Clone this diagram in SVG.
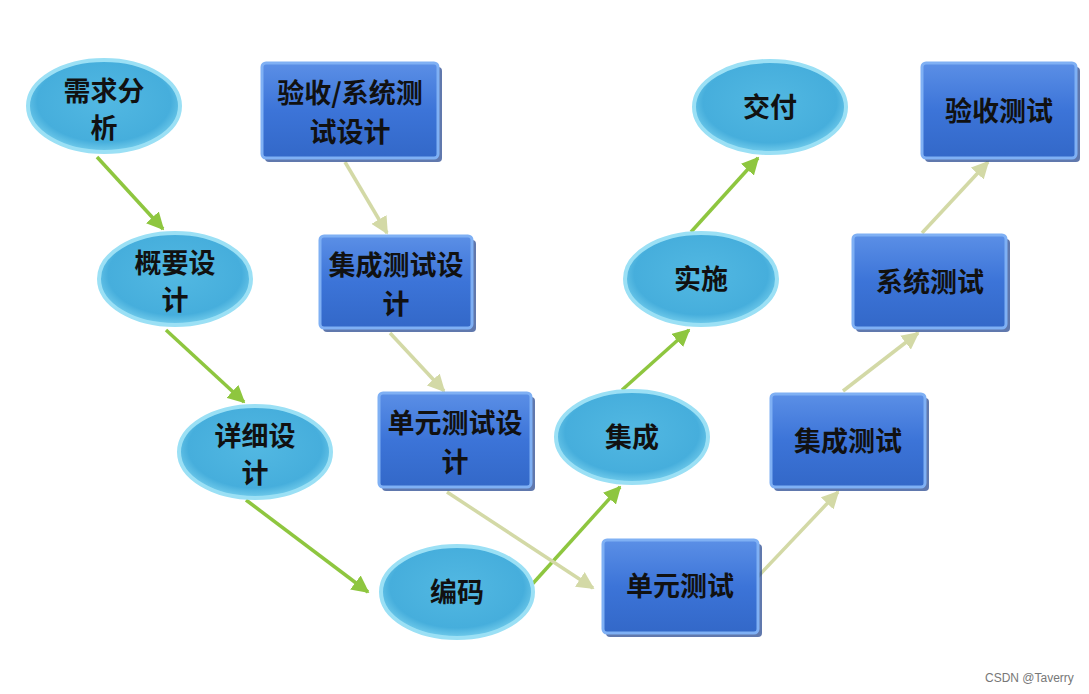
<svg xmlns="http://www.w3.org/2000/svg" width="1089" height="694" viewBox="0 0 1089 694">
<defs>
<radialGradient id="eg" cx="50%" cy="45%" r="55%">
<stop offset="0" stop-color="#52b8e2"/>
<stop offset="0.8" stop-color="#46aedc"/>
<stop offset="1" stop-color="#74cdec"/>
</radialGradient>
<linearGradient id="rg" x1="0" y1="0" x2="0" y2="1">
<stop offset="0" stop-color="#5b8fe6"/>
<stop offset="0.5" stop-color="#3c74d8"/>
<stop offset="1" stop-color="#3368c8"/>
</linearGradient>
<marker id="ag" viewBox="0 0 10 10" refX="9" refY="5" markerWidth="5" markerHeight="5" orient="auto" markerUnits="strokeWidth">
<path d="M0,0 L10,5 L0,10 z" fill="#8ec63f"/>
</marker>
<marker id="ap" viewBox="0 0 10 10" refX="9" refY="5" markerWidth="5" markerHeight="5" orient="auto" markerUnits="strokeWidth">
<path d="M0,0 L10,5 L0,10 z" fill="#d3d9a6"/>
</marker>
</defs>
<style>
.el{fill:url(#eg);stroke:#9be0f5;stroke-width:4}
.rc{fill:url(#rg);stroke:#7fb0f4;stroke-width:3}
.sh{fill:#1c3f8a;opacity:0.7}
.t{font-family:"Noto Sans CJK SC","Noto Sans",sans-serif;font-weight:bold;font-size:27px;fill:#111;text-anchor:middle}
.g{stroke:#8ec63f;stroke-width:3.5;fill:none;marker-end:url(#ag)}
.p{stroke:#d3d9a6;stroke-width:3.5;fill:none;marker-end:url(#ap)}
.wm{font-family:"Liberation Sans",Arial,sans-serif;font-size:12px;fill:#777}
</style>
<rect width="1089" height="694" fill="#ffffff"/>
<g id="connectors">
<line class="g" x1="97" y1="157" x2="163" y2="229"/>
<line class="g" x1="166" y1="330" x2="244" y2="402"/>
<line class="g" x1="246" y1="500" x2="368" y2="592"/>
<line class="g" x1="527" y1="590" x2="620" y2="487"/>
<line class="g" x1="622" y1="390" x2="689" y2="330"/>
<line class="g" x1="691" y1="232" x2="758" y2="158"/>
<line class="p" x1="345" y1="162" x2="387" y2="233"/>
<line class="p" x1="390" y1="333" x2="444" y2="391"/>
<line class="p" x1="447" y1="492" x2="593" y2="588"/>
<line class="p" x1="750" y1="585" x2="838" y2="492"/>
<line class="p" x1="843" y1="391" x2="918" y2="333"/>
<line class="p" x1="922" y1="233" x2="988" y2="162"/>
</g>
<g id="n1"><ellipse class="el" cx="104" cy="106" rx="76" ry="46"/><text class="t" x="104" y="101">需求分</text><text class="t" x="104" y="138">析</text></g>
<g id="n2"><ellipse class="el" cx="175" cy="279" rx="76" ry="46"/><text class="t" x="175" y="273">概要设</text><text class="t" x="175" y="310">计</text></g>
<g id="n3"><ellipse class="el" cx="255" cy="452" rx="76" ry="46"/><text class="t" x="255" y="446">详细设</text><text class="t" x="255" y="483">计</text></g>
<g id="n4"><ellipse class="el" cx="457" cy="592" rx="76" ry="46"/><text class="t" x="457" y="602">编码</text></g>
<g id="n5"><ellipse class="el" cx="632" cy="437" rx="76" ry="46"/><text class="t" x="632" y="447">集成</text></g>
<g id="n6"><ellipse class="el" cx="701" cy="279" rx="76" ry="46"/><text class="t" x="701" y="289">实施</text></g>
<g id="n7"><ellipse class="el" cx="770" cy="107" rx="76" ry="46"/><text class="t" x="770" y="117">交付</text></g>
<g id="r1"><rect class="sh" x="265" y="67" width="177" height="95" rx="4"/><rect class="rc" x="262" y="63" width="176" height="95" rx="4"/><text class="t" x="350" y="103">验收/系统测</text><text class="t" x="350" y="142">试设计</text></g>
<g id="r2"><rect class="sh" x="323" y="240" width="153" height="92" rx="4"/><rect class="rc" x="320" y="236" width="152" height="92" rx="4"/><text class="t" x="396" y="275">集成测试设</text><text class="t" x="396" y="314">计</text></g>
<g id="r3"><rect class="sh" x="382" y="397" width="153" height="94" rx="4"/><rect class="rc" x="379" y="393" width="152" height="94" rx="4"/><text class="t" x="455" y="433">单元测试设</text><text class="t" x="455" y="472">计</text></g>
<g id="r4"><rect class="sh" x="606" y="544" width="156" height="93" rx="4"/><rect class="rc" x="603" y="540" width="155" height="93" rx="4"/><text class="t" x="680" y="596">单元测试</text></g>
<g id="r5"><rect class="sh" x="774" y="398" width="155" height="93" rx="4"/><rect class="rc" x="771" y="394" width="154" height="93" rx="4"/><text class="t" x="848" y="451">集成测试</text></g>
<g id="r6"><rect class="sh" x="856" y="239" width="154" height="93" rx="4"/><rect class="rc" x="853" y="235" width="153" height="93" rx="4"/><text class="t" x="930" y="292">系统测试</text></g>
<g id="r7"><rect class="sh" x="925" y="67" width="155" height="95" rx="4"/><rect class="rc" x="922" y="63" width="154" height="95" rx="4"/><text class="t" x="999" y="121">验收测试</text></g>
<text class="wm" x="985" y="682">CSDN @Taverry</text>
</svg>
